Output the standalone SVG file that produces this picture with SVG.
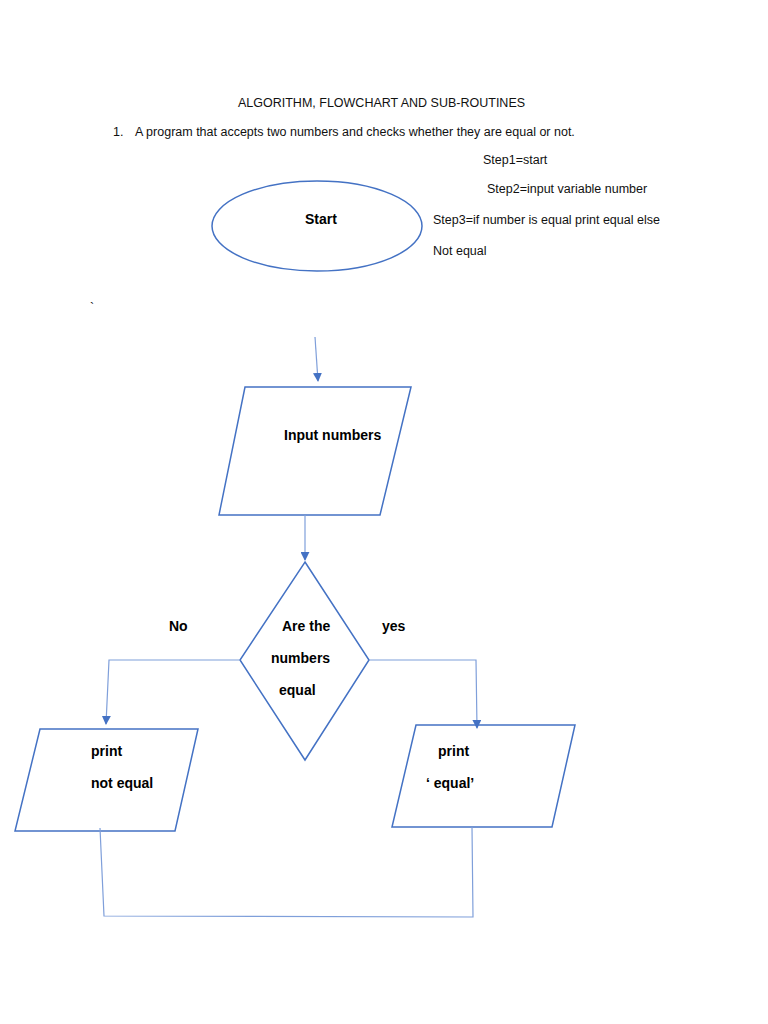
<svg xmlns="http://www.w3.org/2000/svg" width="768" height="1024" viewBox="0 0 768 1024">
<defs>
<style>
.s{fill:none;stroke:#4472C4;stroke-width:1.5}
.c{fill:none;stroke:#7F9FDA;stroke-width:1.2}
.t{font-family:"Liberation Sans",Arial,sans-serif;font-size:12.5px;fill:#111}
.b{font-family:"Liberation Sans",Arial,sans-serif;font-size:14px;font-weight:bold;fill:#000}
</style>
<marker id="a" viewBox="0 0 10 10" refX="9" refY="5" markerWidth="9" markerHeight="9" markerUnits="userSpaceOnUse" orient="auto"><path d="M0,0L10,5L0,10z" fill="#4472C4"/></marker>
</defs>
<rect width="768" height="1024" fill="#fff"/>
<text class="t" x="238" y="107">ALGORITHM, FLOWCHART AND SUB-ROUTINES</text>
<text class="t" x="113" y="136">1.</text>
<text class="t" x="135" y="136">A program that accepts two numbers and checks whether they are equal or not.</text>
<text class="t" x="483" y="164">Step1=start</text>
<text class="t" x="487" y="193">Step2=input variable number</text>
<text class="t" x="433" y="224">Step3=if number is equal print equal else</text>
<text class="t" x="433" y="255">Not equal</text>
<text class="t" x="90" y="312">`</text>
<g id="start"><ellipse class="s" cx="317" cy="226" rx="105" ry="45"/><text class="b" x="305" y="224">Start</text></g>
<g id="input"><polygon class="s" points="245,387 411,387 380,515 219,515"/><text class="b" x="284" y="440">Input numbers</text></g>
<g id="decision"><polygon class="s" points="305,562 369,660 305,760 240,660"/><text class="b" x="282" y="631">Are the</text><text class="b" x="271" y="663">numbers</text><text class="b" x="279" y="695">equal</text></g>
<g id="notequal"><polygon class="s" points="40,729 198,729 175,831 15,831"/><text class="b" x="91" y="756">print</text><text class="b" x="91" y="788">not equal</text></g>
<g id="equal"><polygon class="s" points="416,725 575,725 552,827 392,827"/><text class="b" x="438" y="756">print</text><text class="b" x="426" y="788">‘ equal’</text></g>
<g id="labels"><text class="b" x="169" y="631">No</text><text class="b" x="382" y="631">yes</text></g>
<g id="connectors">
<line class="c" x1="315" y1="337" x2="318" y2="381" marker-end="url(#a)"/>
<line class="c" x1="305" y1="515" x2="305" y2="560" marker-end="url(#a)"/>
<polyline class="c" points="240,660 109,660 106,724" marker-end="url(#a)"/>
<polyline class="c" points="369,660 476,660 477,728" marker-end="url(#a)"/>
<polyline class="c" points="100,828 104,916 473,917 472,827"/>
</g>
</svg>
